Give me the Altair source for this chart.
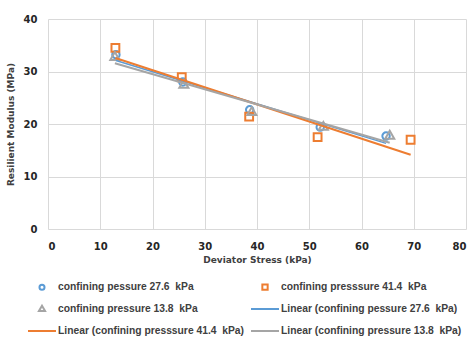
import altair as alt
import pandas as pd

# Series names (as in the original legend)
series_names = [
    "confining pessure 27.6\u00a0 kPa",
    "confining presssure 41.4\u00a0 kPa",
    "confining pressure 13.8\u00a0 kPa",
]
line_names = ["Linear (" + s + ")" for s in series_names]

# Deviator stress (kPa) and resilient modulus (MPa) per confining pressure
x_276 = [13.0, 25.8, 38.6, 52.1, 64.7]
y_276 = [33.2, 28.0, 22.7, 19.4, 17.7]
x_414 = [12.9, 25.6, 38.5, 51.6, 69.4]
y_414 = [34.5, 28.9, 21.4, 17.5, 17.0]
x_138 = [12.8, 26.0, 39.0, 52.7, 65.4]
y_138 = [32.8, 27.5, 22.3, 19.5, 17.8]

rows = []
for name, xs, ys in zip(series_names, [x_276, x_414, x_138], [y_276, y_414, y_138]):
    for xv, yv in zip(xs, ys):
        rows.append({"series": name, "x": xv, "y": yv})
df = pd.DataFrame(rows)

domain = series_names + line_names
colors = ["#5b9bd5", "#ed7d31", "#a5a5a5", "#5b9bd5", "#ed7d31", "#a5a5a5"]
# marker outlines in a [-1, 1] box; the trend-line entries use a full-width stroke
CIRCLE = "M-0.18,0A0.18,0.18 0 1,0 0.18,0A0.18,0.18 0 1,0 -0.18,0Z"
SQUARE = "M-0.19,-0.19H0.19V0.19H-0.19Z"
TRIANGLE = "M0,-0.23L0.22,0.15L-0.22,0.15Z"
STROKE = "M-1,0H1"
shapes = [CIRCLE, SQUARE, TRIANGLE, STROKE, STROKE, STROKE]

FONT = "DejaVu Sans"
LFONT = "Liberation Sans"
legend = alt.Legend(
    title=None, orient="none", legendX=-21, legendY=253, columns=2,
    direction="horizontal", symbolSize=784,
    columnPadding=3, rowPadding=-9.5, padding=0, labelOffset=1,
    labelFont=LFONT, labelFontSize=10.3, labelFontWeight="bold",
    labelColor="#404040", symbolStrokeWidth=2, labelLimit=0,
)

xenc = alt.X("x:Q", title="Deviator Stress (kPa)",
             scale=alt.Scale(domain=[0, 80], nice=False),
             axis=alt.Axis(values=list(range(0, 81, 10)), titlePadding=4, labelPadding=12))
yenc = alt.Y("y:Q", title="Resilient Modulus (MPa)",
             scale=alt.Scale(domain=[0, 40], nice=False),
             axis=alt.Axis(values=list(range(0, 41, 10)), titlePadding=8, labelPadding=11))
color = alt.Color("series:N", scale=alt.Scale(domain=domain, range=colors), legend=legend)

points = alt.Chart(df).mark_point(filled=False, strokeWidth=2, opacity=1, size=1700).encode(
    x=xenc, y=yenc, color=color,
    shape=alt.Shape("series:N", scale=alt.Scale(domain=domain, range=shapes), legend=legend),
)

lines = alt.Chart(df).transform_regression(
    "x", "y", groupby=["series"]
).transform_calculate(
    series='"Linear (" + datum.series + ")"'
).mark_line().encode(
    x=xenc, y=yenc, color=color,
    strokeWidth=alt.StrokeWidth("series:N", scale=alt.Scale(type="ordinal", domain=line_names, range=[1.5, 2, 2]), legend=None),
)

chart = alt.layer(points, lines).properties(
    width=418, height=210,
    autosize=alt.AutoSizeParams(type="none"),
    padding={"left": 48, "top": 19, "right": 8, "bottom": 119},
    background="white",
).configure_view(stroke=None).configure_axis(
    grid=True, gridColor="#d9d9d9", domain=False, ticks=False,
    labelFont=FONT, labelFontSize=10, labelFontWeight="bold", labelColor="#262626",
    titleFont=FONT, titleFontSize=9, titleFontWeight="bold", titleColor="#404040",
)

chart.save("out.html", embed_options={"renderer": "svg", "actions": False})
